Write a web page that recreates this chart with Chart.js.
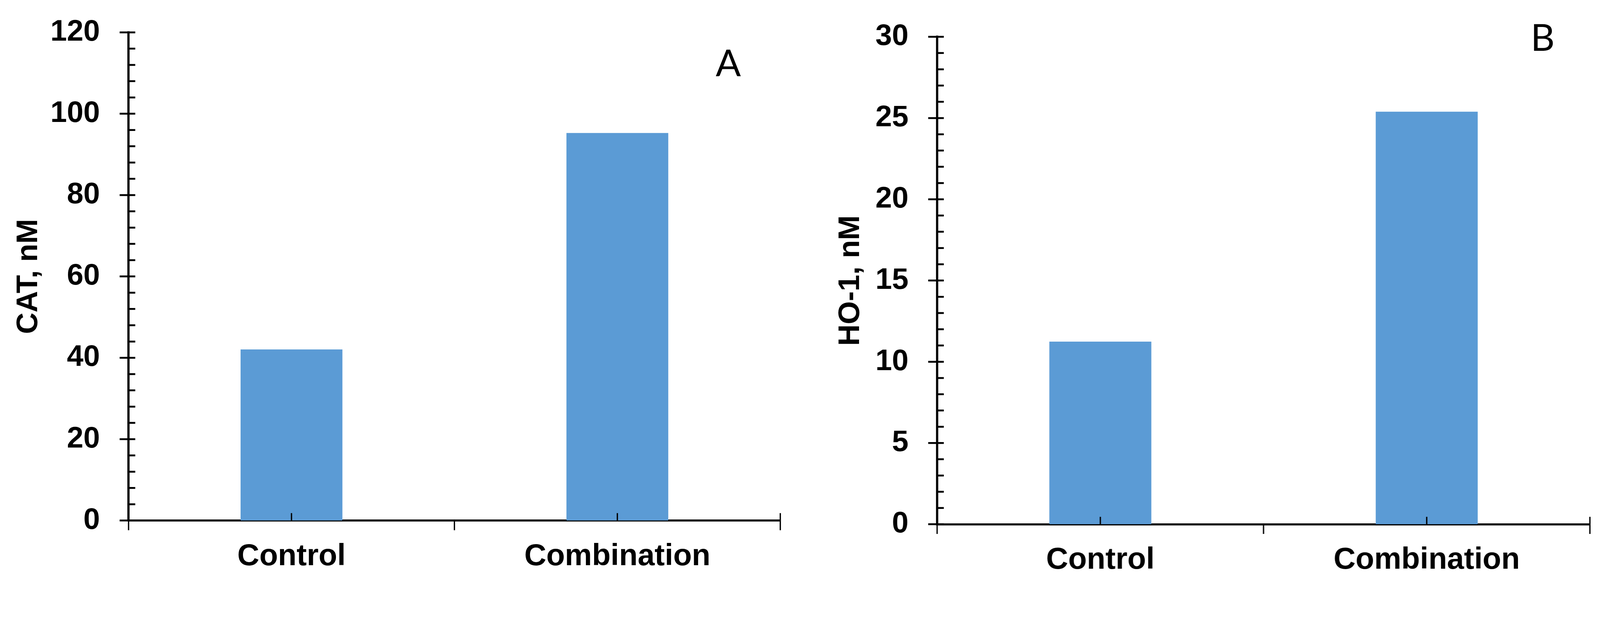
<!DOCTYPE html>
<html>
<head>
<meta charset="utf-8">
<script src="https://cdn.jsdelivr.net/npm/chart.js@4.4.1/dist/chart.umd.min.js"></script>
<style>
  html, body { margin: 0; padding: 0; background: #fff; overflow: hidden; }
  .panel { position: absolute; top: 0; }
</style>
</head>
<body>
<div class="panel" id="panelA"><canvas id="chartA"></canvas></div>
<div class="panel" id="panelB"><canvas id="chartB"></canvas></div>
<script>
// ---------- data ----------
const categories = ['Control', 'Combination'];
const catValues = [42.05, 95.25];   // CAT, nM
const hoValues = [11.24, 25.39];    // HO-1, nM
const catTicks = [0, 20, 40, 60, 80, 100, 120];
const hoTicks = [0, 5, 10, 15, 20, 25, 30];
const minorPerMajor = 5;

const barColor = '#5B9BD5';
const axisFont = 'Liberation Sans';

// the layout was measured on a 4306px wide picture; scale to the real viewport
const S = window.innerWidth / 4306;
const px = v => v * S;

function placePanel(id, left, width) {
  const el = document.getElementById(id);
  el.style.left = px(left) + 'px';
  el.style.width = px(width) + 'px';
  el.style.height = px(1599) + 'px';
}
placePanel('panelA', 0, 2150);
placePanel('panelB', 2150, 2156);

// Excel-style tick marks: major ticks cross the axis, minor ticks inside
const excelTicks = {
  id: 'excelTicks',
  afterDraw(chart, args, opts) {
    const ctx = chart.ctx;
    const x = chart.scales.x;
    const y = chart.scales.y;
    const ax = y.right;
    const ay = x.top;
    const majors = opts.ticks;
    const step = (majors[1] - majors[0]) / minorPerMajor;

    ctx.save();
    ctx.strokeStyle = '#000';
    ctx.lineWidth = px(5);
    ctx.beginPath();
    majors.forEach((v, i) => {
      const py = y.getPixelForValue(v);
      ctx.moveTo(ax - px(24), py);
      ctx.lineTo(ax + px(18), py);
      if (i < majors.length - 1) {
        for (let k = 1; k < minorPerMajor; k++) {
          const my = y.getPixelForValue(v + k * step);
          ctx.moveTo(ax, my);
          ctx.lineTo(ax + px(18), my);
        }
      }
    });
    ctx.stroke();

    ctx.lineWidth = px(3.5);
    ctx.beginPath();
    categories.forEach((c, i) => {
      const cx = x.getPixelForValue(i);
      ctx.moveTo(cx, ay - px(20));
      ctx.lineTo(cx, ay);
    });
    for (let b = 0; b <= categories.length; b++) {
      const bx = x.getPixelForValue(b - 0.5);
      ctx.moveTo(bx, b === categories.length ? ay - px(20) : ay);
      ctx.lineTo(bx, ay + px(26));
    }
    ctx.stroke();

    // panel letter
    ctx.fillStyle = '#000';
    ctx.font = px(100) + 'px Lato';
    ctx.textAlign = 'center';
    ctx.textBaseline = 'alphabetic';
    ctx.fillText(opts.letter, chart.chartArea.right + px(opts.letterDx), chart.chartArea.top + px(opts.letterDy));
    ctx.restore();
  }
};

function makeChart(id, values, ticks, title, cfg) {
  const ctx = document.getElementById(id).getContext('2d');
  return new Chart(ctx, {
    type: 'bar',
    data: {
      labels: categories,
      datasets: [{
        data: values,
        backgroundColor: barColor,
        borderWidth: 0,
        categoryPercentage: 1,
        barPercentage: 0.3125
      }]
    },
    options: {
      responsive: true,
      maintainAspectRatio: false,
      animation: false,
      events: [],
      layout: { padding: { left: 0, right: px(cfg.padRight), top: px(cfg.padTop), bottom: 0 } },
      plugins: {
        legend: { display: false },
        tooltip: { enabled: false },
        excelTicks: { ticks: ticks, letter: cfg.letter, letterDx: cfg.letterDx, letterDy: cfg.letterDy }
      },
      scales: {
        x: {
          z: 1,
          grid: { display: false, drawTicks: false, tickLength: 0 },
          border: { display: true, color: '#000', width: px(5.5) },
          ticks: {
            color: '#000',
            padding: px(48),
            font: { family: axisFont, size: px(82), weight: 'bold' }
          },
          afterFit: s => {
            s.height = px(cfg.xHeight);
            s.paddingLeft = 0;
            s.paddingRight = 0;
          }
        },
        y: {
          z: 1,
          min: 0,
          max: ticks[ticks.length - 1],
          grid: { display: false, drawTicks: false, tickLength: 0 },
          border: { display: true, color: '#000', width: px(6) },
          afterBuildTicks: s => { s.ticks = ticks.map(v => ({ value: v })); },
          ticks: {
            color: '#000',
            padding: px(77),
            font: { family: axisFont, size: px(80), weight: 'bold' }
          },
          title: {
            display: true,
            text: title,
            color: '#000',
            padding: { top: px(cfg.titlePad), bottom: 0 },
            font: { family: axisFont, size: px(80), weight: 'bold', lineHeight: 1.2 }
          },
          afterFit: s => {
            s.width = px(cfg.yWidth);
            s.paddingTop = 0;
            s.paddingBottom = 0;
          }
        }
      }
    },
    plugins: [excelTicks]
  });
}

makeChart('chartA', catValues, catTicks, 'CAT, nM', {
  padRight: 50, padTop: 87, xHeight: 199, yWidth: 346, titlePad: 30,
  letter: 'A', letterDx: -140, letterDy: 118
});
makeChart('chartB', hoValues, hoTicks, 'HO-1, nM', {
  padRight: 28, padTop: 99, xHeight: 189, yWidth: 372, titlePad: 92,
  letter: 'B', letterDx: -127, letterDy: 38
});
</script>
</body>
</html>
